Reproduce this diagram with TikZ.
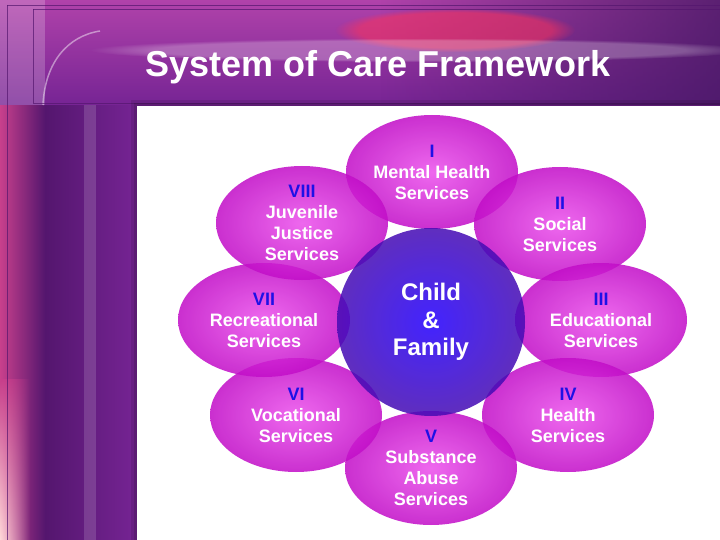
\documentclass[tikz,border=0pt]{standalone}
\usepackage{fontspec}
\setmainfont{Liberation Sans}
\usetikzlibrary{shapes.geometric,fadings}

\definecolor{slidepurple}{RGB}{118,36,148}
\definecolor{darkpurple}{RGB}{84,22,110}
\definecolor{leftpink}{RGB}{200,64,140}
\definecolor{bandtop}{RGB}{176,66,170}
\definecolor{bandright}{RGB}{70,24,100}
\definecolor{glowred}{RGB}{255,50,90}
\definecolor{petallight}{RGB}{236,80,236}
\definecolor{petaldark}{RGB}{194,14,200}
\definecolor{hublight}{RGB}{36,0,255}
\definecolor{hubdark}{RGB}{70,12,180}
\definecolor{numblue}{RGB}{30,16,230}

\begin{document}
\begin{tikzpicture}[x=1pt,y=-1pt,
    petal/.style={ellipse, minimum width=172pt, minimum height=114pt, inner sep=0pt,
        shading=radial, inner color=petallight, outer color=petaldark,
        fill opacity=0.86, text opacity=1, text=white, align=center,
        font=\bfseries\fontsize{18}{21}\selectfont},
    hub/.style={circle, minimum size=188pt, inner sep=0pt,
        shading=radial, inner color=hublight, outer color=hubdark,
        fill opacity=0.86, text opacity=1, text=white, align=center,
        font=\bfseries\fontsize{24}{27.5}\selectfont}]
    \useasboundingbox (0,0) rectangle (720,540);

    % Draw the slide background
    \fill[slidepurple] (0,0) rectangle (720,540);
    \shade[left color=leftpink, right color=darkpurple] (0,0) rectangle (45,540);
    \shade[left color=darkpurple, right color=slidepurple] (45,105) rectangle (137,540);
    \fill[white, opacity=0.15] (84,105) rectangle (96,540);
    \shade[top color=leftpink, bottom color=pink!60!white, path fading=east] (0,380) rectangle (30,540);

    % Top band with the title
    \shade[top color=bandtop, bottom color=slidepurple] (0,0) rectangle (720,105);
    \fill[bandright, path fading=west, opacity=0.8] (380,0) rectangle (720,105);
    \fill[glowred, path fading=circle with fuzzy edge 20 percent, opacity=0.55] (455,30) ellipse (120 and 22);
    \fill[white, path fading=circle with fuzzy edge 20 percent, opacity=0.25] (420,50) ellipse (330 and 12);
    \fill[white, opacity=0.2] (0,0) rectangle (45,105);
    \draw[white, opacity=0.45, line width=1.5pt] (43,105) .. controls (45,62) and (68,36) .. (100,31);

    % Frame lines
    \draw[darkpurple, opacity=0.7] (7,5) -- (720,5);
    \draw[darkpurple, opacity=0.7] (7,5) -- (7,540);
    \draw[darkpurple, opacity=0.7] (33,9) -- (720,9);
    \draw[darkpurple, opacity=0.7] (33,9) -- (33,103) -- (720,103);

    % White panel and its shadow
    \fill[black, opacity=0.1] (131,100) rectangle (720,540);
    \fill[black, opacity=0.12] (134,103) rectangle (720,540);
    \fill[white] (137,106) rectangle (720,540);

    \node[text=white, font=\bfseries\fontsize{36}{40}\selectfont] (title) at (378,67) {System of Care Framework};

    % The eight services
    \node[petal] (mental) at (432,172) {\textcolor{numblue}{I}\\Mental Health\\Services};
    \node[petal] (social) at (560,224) {\textcolor{numblue}{II}\\Social\\Services};
    \node[petal] (educational) at (601,320) {\textcolor{numblue}{III}\\Educational\\Services};
    \node[petal] (health) at (568,415) {\textcolor{numblue}{IV}\\Health\\Services};
    \node[petal] (substance) at (431,468) {\textcolor{numblue}{V}\\Substance\\Abuse\\Services};
    \node[petal] (vocational) at (296,415) {\textcolor{numblue}{VI}\\Vocational\\Services};
    \node[petal] (recreational) at (264,320) {\textcolor{numblue}{VII}\\Recreational\\Services};
    \node[petal] (juvenile) at (302,223) {\textcolor{numblue}{VIII}\\Juvenile\\Justice\\Services};

    % Child and family in the middle
    \node[hub] (family) at (431,322) {Child\\\&\\Family};
\end{tikzpicture}
\end{document}
